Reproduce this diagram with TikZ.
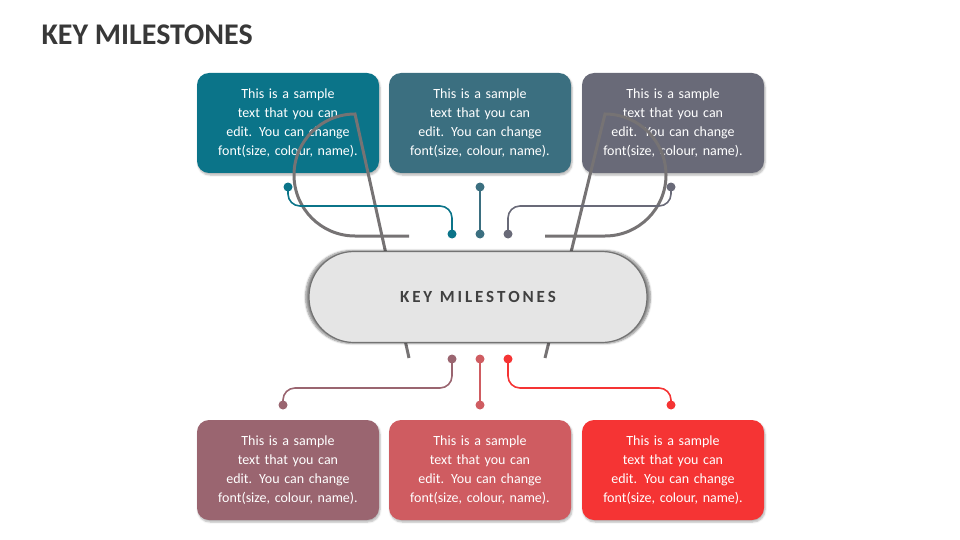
\documentclass[tikz,border=0pt]{standalone}
\usepackage{fontspec}
\setmainfont{Carlito}
\usetikzlibrary{shadows.blur}
\definecolor{cA}{HTML}{0B7489}
\definecolor{cB}{HTML}{3B6F80}
\definecolor{cC}{HTML}{696A78}
\definecolor{cD}{HTML}{9A6570}
\definecolor{cE}{HTML}{CF5C61}
\definecolor{cF}{HTML}{F53434}
\definecolor{trk}{HTML}{767374}
\begin{document}
\begin{tikzpicture}[x=1pt,y=-1pt,
 box/.style={rounded corners=12pt,minimum width=182pt,minimum height=100pt,text width=150pt,align=center,text=white,font=\fontsize{14}{19}\selectfont,blur shadow={shadow blur steps=5,shadow xshift=1pt,shadow yshift=-2pt,shadow opacity=30}},
 wire/.style={line width=1.6pt,rounded corners=12pt},
 dot/.style={circle,inner sep=0pt,minimum size=9pt}]
\useasboundingbox (0,0) rectangle (960,540);
\node[anchor=west,font=\fontsize{30}{30}\selectfont\bfseries,text=black!78] (title) at (38,35) {KEY MILESTONES};
\node[box,fill=cA] (b1) at (288,123) {This is a sample text that you can edit. You can change font(size, colour, name).};
\node[box,fill=cB] (b2) at (480,123) {This is a sample text that you can edit. You can change font(size, colour, name).};
\node[box,fill=cC] (b3) at (673,123) {This is a sample text that you can edit. You can change font(size, colour, name).};
\node[box,fill=cD] (b4) at (288,470) {This is a sample text that you can edit. You can change font(size, colour, name).};
\node[box,fill=cE] (b5) at (480,470) {This is a sample text that you can edit. You can change font(size, colour, name).};
\node[box,fill=cF] (b6) at (673,470) {This is a sample text that you can edit. You can change font(size, colour, name).};
% track
\draw[trk,line width=3pt] (409,236) -- (355,236) arc[start angle=90,end angle=270,radius=61] -- (409,358);
\draw[trk,line width=3pt] (545,236) -- (605,236) arc[start angle=90,end angle=-90,radius=61] -- (545,358);
\node[draw=black!55,line width=1.2pt,fill=black!10,rounded corners=45pt,minimum width=338pt,minimum height=91pt,font=\fontsize{17}{17}\selectfont\bfseries,text=black!75,blur shadow={shadow blur steps=6,shadow xshift=0pt,shadow yshift=0pt,shadow opacity=45,shadow scale=1.02}] (core) at (478,297) {K\,E\,Y\ \ M\,I\,L\,E\,S\,T\,O\,N\,E\,S};
% dots
\node[dot,fill=cA] (a1) at (288,187) {}; \node[dot,fill=cA] (a2) at (452,234) {};
\node[dot,fill=cB] (c1) at (480,187) {}; \node[dot,fill=cB] (c2) at (480,234) {};
\node[dot,fill=cC] (e1) at (671,187) {}; \node[dot,fill=cC] (e2) at (508,234) {};
\node[dot,fill=cD] (d1) at (452,359) {}; \node[dot,fill=cD] (d2) at (283,405) {};
\node[dot,fill=cE] (f1) at (480,359) {}; \node[dot,fill=cE] (f2) at (480,405) {};
\node[dot,fill=cF] (g1) at (508,359) {}; \node[dot,fill=cF] (g2) at (671,405) {};
\draw[wire,cA] (a1.center) -- (288,206) -- (452,206) -- (a2.center);
\draw[wire,cB] (c1.center) -- (c2.center);
\draw[wire,cC] (e1.center) -- (671,206) -- (508,206) -- (e2.center);
\draw[wire,cD] (d1.center) -- (452,388) -- (283,388) -- (d2.center);
\draw[wire,cE] (f1.center) -- (f2.center);
\draw[wire,cF] (g1.center) -- (508,388) -- (671,388) -- (g2.center);
\end{tikzpicture}
\end{document}
